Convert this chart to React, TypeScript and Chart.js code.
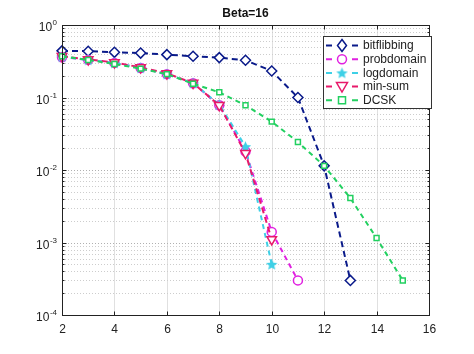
import { useEffect, useRef } from 'react';
import { Chart, registerables } from 'chart.js';
Chart.register(...registerables);

const chartTitle = 'Beta=16';
const xTicks = [2, 4, 6, 8, 10, 12, 14, 16];
const yDecades = [-4, -3, -2, -1, 0];

const xBitflibbing = [2, 3, 4, 5, 6, 7, 8, 9, 10, 11, 12, 13];
const bitflibbing = [0.44, 0.435, 0.42, 0.41, 0.39, 0.37, 0.355, 0.326, 0.232, 0.1, 0.0114, 0.0003];
const xProbdomain = [2, 3, 4, 5, 6, 7, 8, 9, 10, 11];
const probdomain = [0.36, 0.33, 0.3, 0.255, 0.21, 0.157, 0.078, 0.018, 0.0014, 0.0003];
const xLogdomain = [2, 3, 4, 5, 6, 7, 8, 9, 10];
const logdomain = [0.365, 0.33, 0.3, 0.256, 0.21, 0.158, 0.08, 0.021, 0.0005];
const xMinSum = [2, 3, 4, 5, 6, 7, 8, 9, 10];
const minSum = [0.37, 0.335, 0.305, 0.26, 0.215, 0.158, 0.078, 0.017, 0.0011];
const xDcsk = [2, 3, 4, 5, 6, 7, 8, 9, 10, 11, 12, 13, 14, 15];
const dcsk = [0.37, 0.33, 0.29, 0.25, 0.21, 0.155, 0.118, 0.078, 0.0465, 0.0243, 0.0114, 0.0041, 0.00115, 0.0003];

const seriesNames = ['bitflibbing', 'probdomain', 'logdomain', 'min-sum', 'DCSK'];
const seriesColors = ['#0a1a8a', '#e020e0', '#3ed0e6', '#e8196a', '#22d060'];

const FONT = '"Liberation Sans", Arial, sans-serif';

function makeStar(color: string, size: number) {
  const c = document.createElement('canvas');
  c.width = size;
  c.height = size;
  const g = c.getContext('2d')!;
  const cx = size / 2, cy = size / 2 + 0.5;
  const R = size / 2 - 0.5, r = R * 0.45;
  g.beginPath();
  for (let i = 0; i < 10; i++) {
    const rad = i % 2 === 0 ? R : r;
    const a = -Math.PI / 2 + (i * Math.PI) / 5;
    const px = cx + rad * Math.cos(a), py = cy + rad * Math.sin(a);
    if (i === 0) g.moveTo(px, py); else g.lineTo(px, py);
  }
  g.closePath();
  g.fillStyle = color;
  g.fill();
  return c;
}

function drawMarker(ctx: CanvasRenderingContext2D, kind: string, x: number, y: number, color: string, star: HTMLCanvasElement) {
  ctx.save();
  ctx.strokeStyle = color;
  ctx.fillStyle = '#fff';
  ctx.lineWidth = 1.5;
  ctx.setLineDash([]);
  ctx.beginPath();
  if (kind === 'diamond') {
    ctx.moveTo(x, y - 6); ctx.lineTo(x + 4.5, y); ctx.lineTo(x, y + 6); ctx.lineTo(x - 4.5, y); ctx.closePath();
    ctx.fill(); ctx.stroke();
  } else if (kind === 'circle') {
    ctx.arc(x, y, 4.5, 0, Math.PI * 2); ctx.fill(); ctx.stroke();
  } else if (kind === 'star') {
    ctx.drawImage(star, x - star.width / 2, y - star.height / 2);
  } else if (kind === 'tri') {
    ctx.moveTo(x - 5.5, y - 4); ctx.lineTo(x + 5.5, y - 4); ctx.lineTo(x, y + 5.5); ctx.closePath();
    ctx.fill(); ctx.stroke();
  } else if (kind === 'square') {
    ctx.rect(x - 3.5, y - 3.5, 7, 7); ctx.fill(); ctx.stroke();
  }
  ctx.restore();
}

const markerKinds = ['diamond', 'circle', 'star', 'tri', 'square'];

export default function App() {
  const ref = useRef<HTMLCanvasElement>(null);
  useEffect(() => {
    const canvas = ref.current!;
    const star = makeStar(seriesColors[2], 13);
    const toPts = (xs: number[], ys: number[]) => xs.map((x, i) => ({ x, y: ys[i] }));

    const mk = (i: number, xs: number[], ys: number[], extra: any) => ({
      label: seriesNames[i],
      data: toPts(xs, ys),
      borderColor: seriesColors[i],
      backgroundColor: '#ffffff',
      borderWidth: 2,
      borderDash: [6, 4],
      pointBorderWidth: 1.5,
      pointBorderColor: seriesColors[i],
      pointBackgroundColor: '#ffffff',
      tension: 0,
      clip: false,
      order: 4 - i,
      ...extra,
    });

    const axesPlugin = {
      id: 'matlabAxes',
      beforeDatasetsDraw(chart: any) {
        const { ctx, chartArea: a, scales } = chart;
        const xs = scales.x, ys = scales.y;
        ctx.save();
        ctx.strokeStyle = '#e0e0e0';
        ctx.lineWidth = 1;
        ctx.setLineDash([]);
        for (const t of xTicks) {
          const px = Math.round(xs.getPixelForValue(t)) + 0.5;
          ctx.beginPath(); ctx.moveTo(px, a.top); ctx.lineTo(px, a.bottom); ctx.stroke();
        }
        ctx.setLineDash([1, 2]);
        for (const d of yDecades) {
          for (let m = 1; m <= 9; m++) {
            const v = m * Math.pow(10, d);
            if (v > 1) break;
            const py = Math.round(ys.getPixelForValue(v)) + 0.5;
            ctx.strokeStyle = m === 1 ? '#b0b0b0' : '#cdcdcd';
            ctx.beginPath(); ctx.moveTo(a.left, py); ctx.lineTo(a.right, py); ctx.stroke();
          }
        }
        ctx.restore();
      },
      afterDatasetsDraw(chart: any) {
        const { ctx, chartArea: a, scales } = chart;
        const xs = scales.x, ys = scales.y;
        ctx.save();
        ctx.setLineDash([]);
        ctx.strokeStyle = '#222';
        ctx.lineWidth = 1;
        const L = Math.round(a.left) + 0.5, R = Math.round(a.right) + 0.5;
        const T = Math.round(a.top) + 0.5, B = Math.round(a.bottom) + 0.5;
        ctx.strokeRect(L, T, R - L, B - T);
        ctx.fillStyle = '#222';
        ctx.font = `12px ${FONT}`;
        ctx.textAlign = 'center';
        ctx.textBaseline = 'middle';
        for (const t of xTicks) {
          const px = Math.round(xs.getPixelForValue(t)) + 0.5;
          ctx.beginPath(); ctx.moveTo(px, B); ctx.lineTo(px, B - 4); ctx.moveTo(px, T); ctx.lineTo(px, T + 4); ctx.stroke();
          ctx.fillText(String(t), px, B + 14);
        }
        for (const d of yDecades) {
          for (let m = 1; m <= 9; m++) {
            const v = m * Math.pow(10, d);
            if (v > 1) break;
            const py = Math.round(ys.getPixelForValue(v)) + 0.5;
            const len = m === 1 ? 4 : 2;
            ctx.beginPath(); ctx.moveTo(L, py); ctx.lineTo(L + len, py); ctx.moveTo(R, py); ctx.lineTo(R - len, py); ctx.stroke();
          }
          const py = ys.getPixelForValue(Math.pow(10, d));
          const exp = String(d);
          ctx.font = `8px ${FONT}`;
          const ew = ctx.measureText(exp).width;
          ctx.textAlign = 'right';
          ctx.textBaseline = 'alphabetic';
          const rx = a.left - 5;
          ctx.fillText(exp, rx, py);
          ctx.font = `12px ${FONT}`;
          ctx.fillText('10', rx - ew - 0.5, py + 6);
        }
        ctx.font = `bold 12px ${FONT}`;
        ctx.textAlign = 'center';
        ctx.textBaseline = 'middle';
        ctx.fillStyle = '#111';
        ctx.fillText(chartTitle, (a.left + a.right) / 2, 14);
        const bx = 323.5, by = 36.5, bw = 108, bh = 72;
        ctx.fillStyle = '#fff';
        ctx.fillRect(bx, by, bw, bh);
        ctx.strokeStyle = '#333';
        ctx.strokeRect(bx, by, bw, bh);
        ctx.font = `12px ${FONT}`;
        ctx.textAlign = 'left';
        ctx.textBaseline = 'middle';
        for (let i = 0; i < seriesNames.length; i++) {
          const yy = 45.5 + i * 13.7;
          ctx.strokeStyle = seriesColors[i];
          ctx.lineWidth = 2;
          ctx.beginPath();
          ctx.moveTo(326, yy); ctx.lineTo(332, yy);
          ctx.moveTo(352, yy); ctx.lineTo(358, yy);
          ctx.stroke();
          drawMarker(ctx, markerKinds[i], 342, yy, seriesColors[i], star);
          ctx.fillStyle = '#222';
          ctx.fillText(seriesNames[i], 363, yy + 0.5);
        }
        ctx.restore();
      },
    };

    const chart = new Chart(canvas, {
      type: 'line',
      data: {
        datasets: [
          mk(0, xBitflibbing, bitflibbing, { pointStyle: 'rectRot', pointRadius: 5, borderDash: [6, 4] }),
          mk(1, xProbdomain, probdomain, { pointStyle: 'circle', pointRadius: 4.5, borderDash: [5, 4] }),
          mk(2, xLogdomain, logdomain, { pointStyle: star, pointRadius: 6, borderDash: [5, 4] }),
          mk(3, xMinSum, minSum, { pointStyle: 'triangle', rotation: 180, pointRotation: 180, pointRadius: 5.5, borderDash: [6, 4] }),
          mk(4, xDcsk, dcsk, { pointStyle: 'rect', pointRadius: 3.5, borderDash: [5, 4] }),
        ],
      },
      options: {
        animation: false,
        responsive: false,
        events: [],
        layout: { padding: { left: 62, right: 45, top: 25, bottom: 39 } },
        plugins: { legend: { display: false }, tooltip: { enabled: false }, title: { display: false } },
        scales: {
          x: { type: 'linear', min: 2, max: 16, display: false },
          y: { type: 'logarithmic', min: 1e-4, max: 1, display: false },
        },
      },
      plugins: [axesPlugin],
    });
    return () => chart.destroy();
  }, []);
  return (
    <div style={{ position: 'fixed', left: 0, top: 0, width: 474, height: 354, background: '#fff' }}>
      <canvas ref={ref} width={474} height={354} />
    </div>
  );
}
